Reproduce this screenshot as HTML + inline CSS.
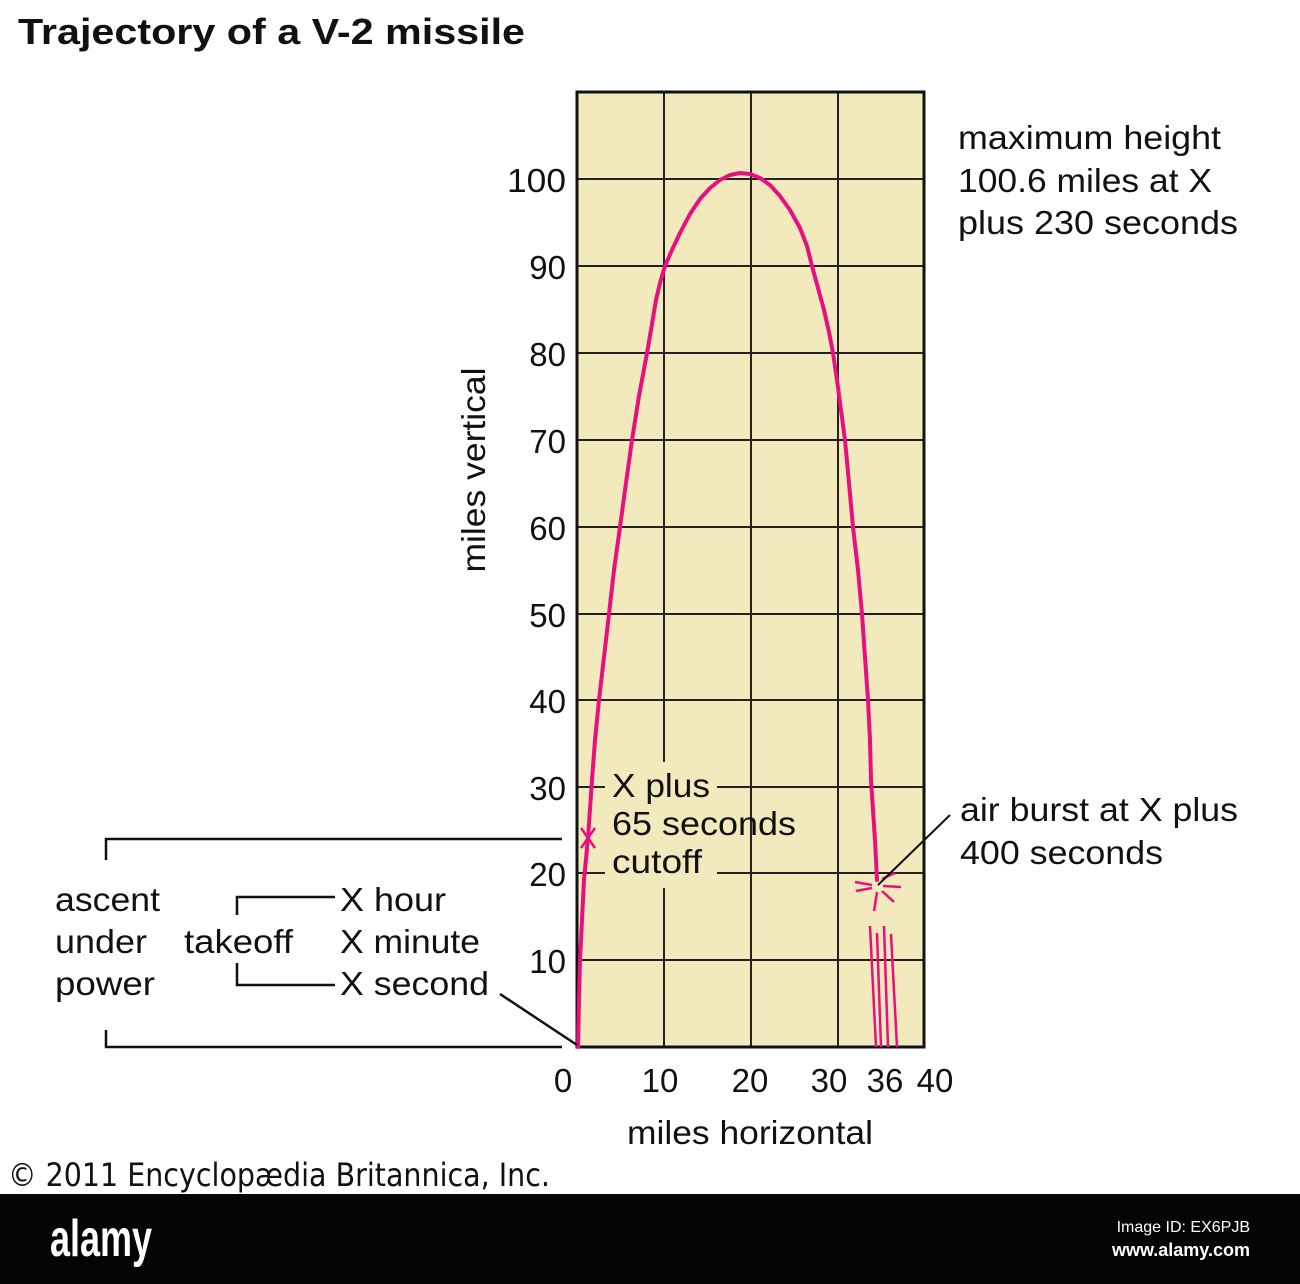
<!DOCTYPE html>
<html><head><meta charset="utf-8"><style>
html,body{margin:0;padding:0;background:#fff}
svg{display:block}
text{font-family:"Liberation Sans",Arial,sans-serif;fill:#111}
</style></head><body>
<svg width="1300" height="1284" viewBox="0 0 1300 1284" xmlns="http://www.w3.org/2000/svg">
<rect width="1300" height="1284" fill="#fff"/>
<text x="18" y="44" font-size="36" font-weight="bold" textLength="507" lengthAdjust="spacingAndGlyphs">Trajectory of a V-2 missile</text>
<rect x="577" y="92" width="347" height="955" fill="#f2e9bc"/>
<g stroke="#222" stroke-width="2">
<line x1="664" y1="92" x2="664" y2="762"/><line x1="664" y1="888" x2="664" y2="1047"/>
<line x1="751" y1="92" x2="751" y2="1047"/>
<line x1="838" y1="92" x2="838" y2="1047"/>
<line x1="577" y1="179" x2="924" y2="179"/>
<line x1="577" y1="266" x2="924" y2="266"/>
<line x1="577" y1="353" x2="924" y2="353"/>
<line x1="577" y1="440" x2="924" y2="440"/>
<line x1="577" y1="527" x2="924" y2="527"/>
<line x1="577" y1="614" x2="924" y2="614"/>
<line x1="577" y1="700" x2="924" y2="700"/>
<line x1="577" y1="787" x2="605" y2="787"/><line x1="717" y1="787" x2="924" y2="787"/>
<line x1="577" y1="873" x2="605" y2="873"/><line x1="717" y1="873" x2="924" y2="873"/>
<line x1="577" y1="960" x2="924" y2="960"/>
</g>
<rect x="577" y="92" width="347" height="955" fill="none" stroke="#111" stroke-width="3"/>
<polyline fill="none" stroke="#e8107f" stroke-width="4" stroke-linejoin="round" stroke-linecap="round" points="578,1047 579,1000 580,960 582,920 584,880 588,838 592,780 595,740 599,700 604,657 609,614 614,570 620,527 626,483 632,440 639,396 647,353 651,330 656,300 660,283 665,266 672,250 680,233 690,214 700,199 710,188 720,180 730,175 740,173 750,174 760,178 770,185 780,196 790,210 800,228 807,246 812,266 818,288 824,310 829,332 833,353 837,380 841,410 845,440 849,483 853,527 858,570 862,614 865,657 868,700 870,740 871,780 873,810 875,840 877,880"/>
<g stroke="#e8107f" stroke-width="2.5">
<line x1="581" y1="828" x2="595" y2="848"/><line x1="595" y1="828" x2="581" y2="848"/>
<line x1="855" y1="882" x2="872" y2="885"/><line x1="856" y1="891" x2="872" y2="888"/>
<line x1="882" y1="879" x2="895" y2="873"/><line x1="883" y1="886" x2="901" y2="887"/>
<line x1="882" y1="891" x2="894" y2="902"/><line x1="877" y1="892" x2="874" y2="911"/>
<line x1="870" y1="926" x2="876" y2="1047"/><line x1="877" y1="933" x2="881" y2="1047"/>
<line x1="884" y1="926" x2="888" y2="1047"/><line x1="891" y1="934" x2="897" y2="1047"/>
</g>
<line x1="950" y1="815" x2="878" y2="885" stroke="#111" stroke-width="2"/>
<g font-size="33" text-anchor="end">
<text x="566" y="192" textLength="59" lengthAdjust="spacingAndGlyphs">100</text><text x="566" y="279">90</text><text x="566" y="366">80</text>
<text x="566" y="453">70</text><text x="566" y="540">60</text><text x="566" y="627">50</text>
<text x="566" y="713">40</text><text x="566" y="800">30</text><text x="566" y="886">20</text>
<text x="566" y="973">10</text>
</g>
<g font-size="33" text-anchor="middle">
<text x="563" y="1092">0</text><text x="660" y="1092">10</text><text x="750" y="1092">20</text>
<text x="829" y="1092">30</text><text x="885" y="1092">36</text><text x="935" y="1092">40</text>
<text x="750" y="1144" textLength="246" lengthAdjust="spacingAndGlyphs">miles horizontal</text>
</g>
<text transform="translate(485,470) rotate(-90)" font-size="33" text-anchor="middle" textLength="205" lengthAdjust="spacingAndGlyphs">miles vertical</text>
<g font-size="33">
<text x="612" y="797" textLength="98" lengthAdjust="spacingAndGlyphs">X plus</text>
<text x="612" y="835" textLength="184" lengthAdjust="spacingAndGlyphs">65 seconds</text>
<text x="612" y="873" textLength="90" lengthAdjust="spacingAndGlyphs">cutoff</text>
<text x="958" y="149" textLength="263" lengthAdjust="spacingAndGlyphs">maximum height</text>
<text x="958" y="192" textLength="254" lengthAdjust="spacingAndGlyphs">100.6 miles at X</text>
<text x="958" y="234" textLength="280" lengthAdjust="spacingAndGlyphs">plus 230 seconds</text>
<text x="960" y="821" textLength="278" lengthAdjust="spacingAndGlyphs">air burst at X plus</text>
<text x="960" y="864" textLength="203" lengthAdjust="spacingAndGlyphs">400 seconds</text>
<text x="55" y="911" textLength="105" lengthAdjust="spacingAndGlyphs">ascent</text>
<text x="55" y="953" textLength="92" lengthAdjust="spacingAndGlyphs">under</text>
<text x="55" y="995" textLength="100" lengthAdjust="spacingAndGlyphs">power</text>
<text x="184" y="953" textLength="109" lengthAdjust="spacingAndGlyphs">takeoff</text>
<text x="340" y="911" textLength="106" lengthAdjust="spacingAndGlyphs">X hour</text>
<text x="340" y="953" textLength="140" lengthAdjust="spacingAndGlyphs">X minute</text>
<text x="340" y="995" textLength="149" lengthAdjust="spacingAndGlyphs">X second</text>
</g>
<g stroke="#111" stroke-width="2.5" fill="none">
<polyline points="106,860 106,839 562,839"/>
<polyline points="106,1030 106,1047 562,1047"/>
<polyline points="237,915 237,897 335,897"/>
<polyline points="237,963 237,985 335,985"/>
<line x1="500" y1="994" x2="577" y2="1045"/>
</g>
<text x="8" y="1186" font-size="32" style="font-family:'DejaVu Sans',sans-serif" textLength="542" lengthAdjust="spacingAndGlyphs">© 2011 Encyclopædia  Britannica, Inc.</text>
<rect x="0" y="1194" width="1300" height="90" fill="#050505"/>
<text x="50" y="1256" font-size="52" font-weight="bold" style="fill:#fff" textLength="102" lengthAdjust="spacingAndGlyphs">alamy</text>
<text x="1250" y="1232" font-size="16" text-anchor="end" style="fill:#fff">Image ID: EX6PJB</text>
<text x="1250" y="1256" font-size="18" font-weight="bold" text-anchor="end" style="fill:#fff">www.alamy.com</text>
</svg>
</body></html>
